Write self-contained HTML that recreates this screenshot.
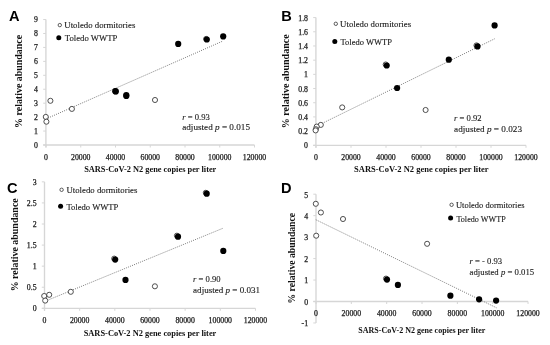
<!DOCTYPE html>
<html><head><meta charset="utf-8"><style>
html,body{margin:0;padding:0;background:#fff;}
body{width:550px;height:345px;overflow:hidden;}
svg{display:block;will-change:transform;filter:blur(0.3px);}
.tk{font-family:"Liberation Serif", serif;font-size:7.8px;fill:#202020;stroke:#202020;stroke-width:0.25px;}
.lg{font-family:"Liberation Serif", serif;font-size:8.4px;fill:#1a1a1a;stroke:#1a1a1a;stroke-width:0.12px;}
.rt{font-family:"Liberation Serif", serif;font-size:8.6px;fill:#1a1a1a;stroke:#1a1a1a;stroke-width:0.12px;}
.ti{font-family:"Liberation Serif", serif;font-size:8.4px;font-weight:bold;fill:#111;}
.yt{font-size:9.8px;}
.let{font-family:"Liberation Sans", sans-serif;font-size:14.6px;font-weight:bold;fill:#000;}
</style></head><body>
<svg width="550" height="345" viewBox="0 0 550 345">

<line x1="45.9" y1="19.54" x2="45.9" y2="147.5" stroke="#d6d6d6" stroke-width="1.35"/>
<line x1="43.2" y1="145" x2="254.5" y2="145" stroke="#d6d6d6" stroke-width="1.35"/>
<line x1="43.2" y1="145" x2="45.9" y2="145" stroke="#d6d6d6" stroke-width="1"/>
<text x="38" y="147.7" text-anchor="end" class="tk">0</text>
<line x1="43.2" y1="131.06" x2="45.9" y2="131.06" stroke="#d6d6d6" stroke-width="1"/>
<text x="38" y="133.76" text-anchor="end" class="tk">1</text>
<line x1="43.2" y1="117.12" x2="45.9" y2="117.12" stroke="#d6d6d6" stroke-width="1"/>
<text x="38" y="119.82" text-anchor="end" class="tk">2</text>
<line x1="43.2" y1="103.18" x2="45.9" y2="103.18" stroke="#d6d6d6" stroke-width="1"/>
<text x="38" y="105.88" text-anchor="end" class="tk">3</text>
<line x1="43.2" y1="89.24" x2="45.9" y2="89.24" stroke="#d6d6d6" stroke-width="1"/>
<text x="38" y="91.94" text-anchor="end" class="tk">4</text>
<line x1="43.2" y1="75.3" x2="45.9" y2="75.3" stroke="#d6d6d6" stroke-width="1"/>
<text x="38" y="78" text-anchor="end" class="tk">5</text>
<line x1="43.2" y1="61.36" x2="45.9" y2="61.36" stroke="#d6d6d6" stroke-width="1"/>
<text x="38" y="64.06" text-anchor="end" class="tk">6</text>
<line x1="43.2" y1="47.42" x2="45.9" y2="47.42" stroke="#d6d6d6" stroke-width="1"/>
<text x="38" y="50.12" text-anchor="end" class="tk">7</text>
<line x1="43.2" y1="33.48" x2="45.9" y2="33.48" stroke="#d6d6d6" stroke-width="1"/>
<text x="38" y="36.18" text-anchor="end" class="tk">8</text>
<line x1="43.2" y1="19.54" x2="45.9" y2="19.54" stroke="#d6d6d6" stroke-width="1"/>
<text x="38" y="22.24" text-anchor="end" class="tk">9</text>
<line x1="46" y1="145" x2="46" y2="147.5" stroke="#d6d6d6" stroke-width="1"/>
<text x="46" y="159.6" text-anchor="middle" class="tk">0</text>
<line x1="80.75" y1="145" x2="80.75" y2="147.5" stroke="#d6d6d6" stroke-width="1"/>
<text x="80.75" y="159.6" text-anchor="middle" class="tk">20000</text>
<line x1="115.5" y1="145" x2="115.5" y2="147.5" stroke="#d6d6d6" stroke-width="1"/>
<text x="115.5" y="159.6" text-anchor="middle" class="tk">40000</text>
<line x1="150.25" y1="145" x2="150.25" y2="147.5" stroke="#d6d6d6" stroke-width="1"/>
<text x="150.25" y="159.6" text-anchor="middle" class="tk">60000</text>
<line x1="185" y1="145" x2="185" y2="147.5" stroke="#d6d6d6" stroke-width="1"/>
<text x="185" y="159.6" text-anchor="middle" class="tk">80000</text>
<line x1="219.75" y1="145" x2="219.75" y2="147.5" stroke="#d6d6d6" stroke-width="1"/>
<text x="219.75" y="159.6" text-anchor="middle" class="tk">100000</text>
<line x1="254.5" y1="145" x2="254.5" y2="147.5" stroke="#d6d6d6" stroke-width="1"/>
<text x="254.5" y="159.6" text-anchor="middle" class="tk">120000</text>
<line x1="46" y1="118.9" x2="222.3" y2="41.3" stroke="#7a7a7a" stroke-width="1" stroke-dasharray="1 1.2"/>
<circle cx="50.4" cy="100.8" r="2.55" fill="#fff" stroke="#3c3c3c" stroke-width="0.9"/>
<circle cx="71.9" cy="108.9" r="2.55" fill="#fff" stroke="#3c3c3c" stroke-width="0.9"/>
<circle cx="45.8" cy="116.9" r="2.55" fill="#fff" stroke="#3c3c3c" stroke-width="0.9"/>
<circle cx="46.4" cy="121.7" r="2.55" fill="#fff" stroke="#3c3c3c" stroke-width="0.9"/>
<circle cx="155" cy="100" r="2.55" fill="#fff" stroke="#3c3c3c" stroke-width="0.9"/>
<circle cx="206.2" cy="38.9" r="2.55" fill="#fff" stroke="#3c3c3c" stroke-width="0.9"/>
<circle cx="115.3" cy="91.2" r="3.1" fill="#000"/>
<circle cx="115.8" cy="91.4" r="3.1" fill="#000"/>
<circle cx="126.3" cy="95" r="3.1" fill="#000"/>
<circle cx="126.3" cy="96" r="3.1" fill="#000"/>
<circle cx="178.2" cy="43.9" r="3.1" fill="#000"/>
<circle cx="206.8" cy="39.5" r="3.1" fill="#000"/>
<circle cx="223.2" cy="36.4" r="3.1" fill="#000"/>
<circle cx="59.8" cy="25.1" r="1.7" fill="#fff" stroke="#333" stroke-width="0.8"/>
<circle cx="58.8" cy="37.7" r="2.5" fill="#000"/>
<text x="64.3" y="27.5" class="lg" textLength="71" lengthAdjust="spacingAndGlyphs">Utoledo dormitories</text>
<text x="64.8" y="40.7" class="lg" textLength="52.5" lengthAdjust="spacingAndGlyphs">Toledo WWTP</text>
<text x="182.2" y="119.5" class="rt"><tspan font-style="italic">r</tspan> = 0.93</text>
<text x="182.2" y="129.7" class="rt" textLength="67.8" lengthAdjust="spacingAndGlyphs">adjusted <tspan font-style="italic">p</tspan> = 0.015</text>
<text x="84.15" y="171.6" class="ti" textLength="132.2" lengthAdjust="spacingAndGlyphs">SARS-CoV-2 N2 gene copies per liter</text>
<text transform="translate(22.4,127.9) rotate(-90)" x="0" y="0" class="ti yt" textLength="93" lengthAdjust="spacingAndGlyphs">% relative abundance</text>
<text x="9" y="20.9" class="let">A</text>
<line x1="315.9" y1="17.59" x2="315.9" y2="147.8" stroke="#d6d6d6" stroke-width="1.35"/>
<line x1="313.2" y1="145.3" x2="526" y2="145.3" stroke="#d6d6d6" stroke-width="1.35"/>
<line x1="313.2" y1="145.3" x2="315.9" y2="145.3" stroke="#d6d6d6" stroke-width="1"/>
<text x="308" y="148.4" text-anchor="end" class="tk">0</text>
<line x1="313.2" y1="131.11" x2="315.9" y2="131.11" stroke="#d6d6d6" stroke-width="1"/>
<text x="308" y="134.21" text-anchor="end" class="tk">0.2</text>
<line x1="313.2" y1="116.92" x2="315.9" y2="116.92" stroke="#d6d6d6" stroke-width="1"/>
<text x="308" y="120.02" text-anchor="end" class="tk">0.4</text>
<line x1="313.2" y1="102.73" x2="315.9" y2="102.73" stroke="#d6d6d6" stroke-width="1"/>
<text x="308" y="105.83" text-anchor="end" class="tk">0.6</text>
<line x1="313.2" y1="88.54" x2="315.9" y2="88.54" stroke="#d6d6d6" stroke-width="1"/>
<text x="308" y="91.64" text-anchor="end" class="tk">0.8</text>
<line x1="313.2" y1="74.35" x2="315.9" y2="74.35" stroke="#d6d6d6" stroke-width="1"/>
<text x="308" y="77.45" text-anchor="end" class="tk">1</text>
<line x1="313.2" y1="60.16" x2="315.9" y2="60.16" stroke="#d6d6d6" stroke-width="1"/>
<text x="308" y="63.26" text-anchor="end" class="tk">1.2</text>
<line x1="313.2" y1="45.97" x2="315.9" y2="45.97" stroke="#d6d6d6" stroke-width="1"/>
<text x="308" y="49.07" text-anchor="end" class="tk">1.4</text>
<line x1="313.2" y1="31.78" x2="315.9" y2="31.78" stroke="#d6d6d6" stroke-width="1"/>
<text x="308" y="34.88" text-anchor="end" class="tk">1.6</text>
<line x1="313.2" y1="17.59" x2="315.9" y2="17.59" stroke="#d6d6d6" stroke-width="1"/>
<text x="308" y="20.69" text-anchor="end" class="tk">1.8</text>
<line x1="316" y1="145.3" x2="316" y2="147.8" stroke="#d6d6d6" stroke-width="1"/>
<text x="316" y="159.6" text-anchor="middle" class="tk">0</text>
<line x1="351" y1="145.3" x2="351" y2="147.8" stroke="#d6d6d6" stroke-width="1"/>
<text x="351" y="159.6" text-anchor="middle" class="tk">20000</text>
<line x1="386" y1="145.3" x2="386" y2="147.8" stroke="#d6d6d6" stroke-width="1"/>
<text x="386" y="159.6" text-anchor="middle" class="tk">40000</text>
<line x1="421" y1="145.3" x2="421" y2="147.8" stroke="#d6d6d6" stroke-width="1"/>
<text x="421" y="159.6" text-anchor="middle" class="tk">60000</text>
<line x1="456" y1="145.3" x2="456" y2="147.8" stroke="#d6d6d6" stroke-width="1"/>
<text x="456" y="159.6" text-anchor="middle" class="tk">80000</text>
<line x1="491" y1="145.3" x2="491" y2="147.8" stroke="#d6d6d6" stroke-width="1"/>
<text x="491" y="159.6" text-anchor="middle" class="tk">100000</text>
<line x1="526" y1="145.3" x2="526" y2="147.8" stroke="#d6d6d6" stroke-width="1"/>
<text x="526" y="159.6" text-anchor="middle" class="tk">120000</text>
<line x1="316" y1="126.4" x2="494.6" y2="38.8" stroke="#7a7a7a" stroke-width="1" stroke-dasharray="1 1.2"/>
<circle cx="320.8" cy="124.9" r="2.55" fill="#fff" stroke="#3c3c3c" stroke-width="0.9"/>
<circle cx="316.7" cy="126.6" r="2.55" fill="#fff" stroke="#3c3c3c" stroke-width="0.9"/>
<circle cx="315.8" cy="129.2" r="2.55" fill="#fff" stroke="#3c3c3c" stroke-width="0.9"/>
<circle cx="315.6" cy="130.4" r="2.55" fill="#fff" stroke="#3c3c3c" stroke-width="0.9"/>
<circle cx="342.2" cy="107.4" r="2.55" fill="#fff" stroke="#3c3c3c" stroke-width="0.9"/>
<circle cx="425.6" cy="110" r="2.55" fill="#fff" stroke="#3c3c3c" stroke-width="0.9"/>
<circle cx="476.5" cy="45.4" r="2.55" fill="#fff" stroke="#3c3c3c" stroke-width="0.9"/>
<circle cx="385.7" cy="64.5" r="2.55" fill="#fff" stroke="#3c3c3c" stroke-width="0.9"/>
<circle cx="386.7" cy="65.5" r="3.1" fill="#000"/>
<circle cx="397.1" cy="88" r="3.1" fill="#000"/>
<circle cx="448.8" cy="59.7" r="3.1" fill="#000"/>
<circle cx="477.5" cy="46.4" r="3.1" fill="#000"/>
<circle cx="494.6" cy="25.4" r="3.1" fill="#000"/>
<circle cx="335.8" cy="23.8" r="1.7" fill="#fff" stroke="#333" stroke-width="0.8"/>
<circle cx="334.8" cy="41.5" r="2.5" fill="#000"/>
<text x="340.1" y="26.9" class="lg" textLength="71" lengthAdjust="spacingAndGlyphs">Utoledo dormitories</text>
<text x="340.5" y="44.8" class="lg" textLength="51.5" lengthAdjust="spacingAndGlyphs">Toledo WWTP</text>
<text x="454.1" y="121" class="rt"><tspan font-style="italic">r</tspan> = 0.92</text>
<text x="454.1" y="131.9" class="rt" textLength="67.9" lengthAdjust="spacingAndGlyphs">adjusted <tspan font-style="italic">p</tspan> = 0.023</text>
<text x="354.05" y="171.6" class="ti" textLength="134.5" lengthAdjust="spacingAndGlyphs">SARS-CoV-2 N2 gene copies per liter</text>
<text transform="translate(288.6,128.3) rotate(-90)" x="0" y="0" class="ti yt" textLength="94" lengthAdjust="spacingAndGlyphs">% relative abundance</text>
<text x="281.2" y="21" class="let">B</text>
<line x1="44.5" y1="181.85" x2="44.5" y2="310.8" stroke="#d6d6d6" stroke-width="1.35"/>
<line x1="41.8" y1="308.3" x2="255.46" y2="308.3" stroke="#d6d6d6" stroke-width="1.35"/>
<line x1="41.8" y1="308.3" x2="44.5" y2="308.3" stroke="#d6d6d6" stroke-width="1"/>
<text x="36.6" y="311.3" text-anchor="end" class="tk">0</text>
<line x1="41.8" y1="287.23" x2="44.5" y2="287.23" stroke="#d6d6d6" stroke-width="1"/>
<text x="36.6" y="290.23" text-anchor="end" class="tk">0.5</text>
<line x1="41.8" y1="266.15" x2="44.5" y2="266.15" stroke="#d6d6d6" stroke-width="1"/>
<text x="36.6" y="269.15" text-anchor="end" class="tk">1</text>
<line x1="41.8" y1="245.08" x2="44.5" y2="245.08" stroke="#d6d6d6" stroke-width="1"/>
<text x="36.6" y="248.08" text-anchor="end" class="tk">1.5</text>
<line x1="41.8" y1="224" x2="44.5" y2="224" stroke="#d6d6d6" stroke-width="1"/>
<text x="36.6" y="227" text-anchor="end" class="tk">2</text>
<line x1="41.8" y1="202.93" x2="44.5" y2="202.93" stroke="#d6d6d6" stroke-width="1"/>
<text x="36.6" y="205.93" text-anchor="end" class="tk">2.5</text>
<line x1="41.8" y1="181.85" x2="44.5" y2="181.85" stroke="#d6d6d6" stroke-width="1"/>
<text x="36.6" y="184.85" text-anchor="end" class="tk">3</text>
<line x1="44.5" y1="308.3" x2="44.5" y2="310.8" stroke="#d6d6d6" stroke-width="1"/>
<text x="44.5" y="323.1" text-anchor="middle" class="tk">0</text>
<line x1="79.66" y1="308.3" x2="79.66" y2="310.8" stroke="#d6d6d6" stroke-width="1"/>
<text x="79.66" y="323.1" text-anchor="middle" class="tk">20000</text>
<line x1="114.82" y1="308.3" x2="114.82" y2="310.8" stroke="#d6d6d6" stroke-width="1"/>
<text x="114.82" y="323.1" text-anchor="middle" class="tk">40000</text>
<line x1="149.98" y1="308.3" x2="149.98" y2="310.8" stroke="#d6d6d6" stroke-width="1"/>
<text x="149.98" y="323.1" text-anchor="middle" class="tk">60000</text>
<line x1="185.14" y1="308.3" x2="185.14" y2="310.8" stroke="#d6d6d6" stroke-width="1"/>
<text x="185.14" y="323.1" text-anchor="middle" class="tk">80000</text>
<line x1="220.3" y1="308.3" x2="220.3" y2="310.8" stroke="#d6d6d6" stroke-width="1"/>
<text x="220.3" y="323.1" text-anchor="middle" class="tk">100000</text>
<line x1="255.46" y1="308.3" x2="255.46" y2="310.8" stroke="#d6d6d6" stroke-width="1"/>
<text x="255.46" y="323.1" text-anchor="middle" class="tk">120000</text>
<line x1="44.5" y1="301.5" x2="222.6" y2="228.4" stroke="#7a7a7a" stroke-width="1" stroke-dasharray="1 1.2"/>
<circle cx="49.2" cy="294.8" r="2.55" fill="#fff" stroke="#3c3c3c" stroke-width="0.9"/>
<circle cx="44.2" cy="296" r="2.55" fill="#fff" stroke="#3c3c3c" stroke-width="0.9"/>
<circle cx="45.2" cy="300.6" r="2.55" fill="#fff" stroke="#3c3c3c" stroke-width="0.9"/>
<circle cx="70.8" cy="291.8" r="2.55" fill="#fff" stroke="#3c3c3c" stroke-width="0.9"/>
<circle cx="154.9" cy="286.3" r="2.55" fill="#fff" stroke="#3c3c3c" stroke-width="0.9"/>
<circle cx="114.2" cy="258.6" r="2.55" fill="#fff" stroke="#3c3c3c" stroke-width="0.9"/>
<circle cx="176.9" cy="235.7" r="2.55" fill="#fff" stroke="#3c3c3c" stroke-width="0.9"/>
<circle cx="205.8" cy="192.8" r="2.55" fill="#fff" stroke="#3c3c3c" stroke-width="0.9"/>
<circle cx="115.2" cy="259.6" r="3.1" fill="#000"/>
<circle cx="125.5" cy="279.9" r="3.1" fill="#000"/>
<circle cx="178" cy="236.7" r="3.1" fill="#000"/>
<circle cx="206.7" cy="193.7" r="3.1" fill="#000"/>
<circle cx="223.3" cy="250.9" r="3.1" fill="#000"/>
<circle cx="61.6" cy="189.8" r="1.7" fill="#fff" stroke="#333" stroke-width="0.8"/>
<circle cx="60.6" cy="206.2" r="2.5" fill="#000"/>
<text x="66.4" y="192.7" class="lg" textLength="71" lengthAdjust="spacingAndGlyphs">Utoledo dormitories</text>
<text x="66.4" y="210.2" class="lg" textLength="52" lengthAdjust="spacingAndGlyphs">Toledo WWTP</text>
<text x="193.1" y="282.4" class="rt"><tspan font-style="italic">r</tspan> = 0.90</text>
<text x="193.1" y="293.4" class="rt" textLength="66.9" lengthAdjust="spacingAndGlyphs">adjusted <tspan font-style="italic">p</tspan> = 0.031</text>
<text x="83.65" y="335.6" class="ti" textLength="132.7" lengthAdjust="spacingAndGlyphs">SARS-CoV-2 N2 gene copies per liter</text>
<text transform="translate(17.8,291.3) rotate(-90)" x="0" y="0" class="ti yt" textLength="93" lengthAdjust="spacingAndGlyphs">% relative abundance</text>
<text x="6.9" y="192.9" class="let">C</text>
<line x1="316" y1="194.2" x2="316" y2="322.96" stroke="#d6d6d6" stroke-width="1.35"/>
<line x1="313.3" y1="301.5" x2="528.04" y2="301.5" stroke="#d6d6d6" stroke-width="1.35"/>
<line x1="313.3" y1="322.96" x2="316" y2="322.96" stroke="#d6d6d6" stroke-width="1"/>
<text x="308.1" y="326.26" text-anchor="end" class="tk">-1</text>
<line x1="313.3" y1="301.5" x2="316" y2="301.5" stroke="#d6d6d6" stroke-width="1"/>
<text x="308.1" y="304.8" text-anchor="end" class="tk">0</text>
<line x1="313.3" y1="280.04" x2="316" y2="280.04" stroke="#d6d6d6" stroke-width="1"/>
<text x="308.1" y="283.34" text-anchor="end" class="tk">1</text>
<line x1="313.3" y1="258.58" x2="316" y2="258.58" stroke="#d6d6d6" stroke-width="1"/>
<text x="308.1" y="261.88" text-anchor="end" class="tk">2</text>
<line x1="313.3" y1="237.12" x2="316" y2="237.12" stroke="#d6d6d6" stroke-width="1"/>
<text x="308.1" y="240.42" text-anchor="end" class="tk">3</text>
<line x1="313.3" y1="215.66" x2="316" y2="215.66" stroke="#d6d6d6" stroke-width="1"/>
<text x="308.1" y="218.96" text-anchor="end" class="tk">4</text>
<line x1="313.3" y1="194.2" x2="316" y2="194.2" stroke="#d6d6d6" stroke-width="1"/>
<text x="308.1" y="197.5" text-anchor="end" class="tk">5</text>
<line x1="316" y1="301.5" x2="316" y2="304" stroke="#d6d6d6" stroke-width="1"/>
<text x="316" y="315.9" text-anchor="middle" class="tk">0</text>
<line x1="351.34" y1="301.5" x2="351.34" y2="304" stroke="#d6d6d6" stroke-width="1"/>
<text x="351.34" y="315.9" text-anchor="middle" class="tk">20000</text>
<line x1="386.68" y1="301.5" x2="386.68" y2="304" stroke="#d6d6d6" stroke-width="1"/>
<text x="386.68" y="315.9" text-anchor="middle" class="tk">40000</text>
<line x1="422.02" y1="301.5" x2="422.02" y2="304" stroke="#d6d6d6" stroke-width="1"/>
<text x="422.02" y="315.9" text-anchor="middle" class="tk">60000</text>
<line x1="457.36" y1="301.5" x2="457.36" y2="304" stroke="#d6d6d6" stroke-width="1"/>
<text x="457.36" y="315.9" text-anchor="middle" class="tk">80000</text>
<line x1="492.7" y1="301.5" x2="492.7" y2="304" stroke="#d6d6d6" stroke-width="1"/>
<text x="492.7" y="315.9" text-anchor="middle" class="tk">100000</text>
<line x1="528.04" y1="301.5" x2="528.04" y2="304" stroke="#d6d6d6" stroke-width="1"/>
<text x="528.04" y="315.9" text-anchor="middle" class="tk">120000</text>
<line x1="315.8" y1="219.7" x2="496.5" y2="307.8" stroke="#7a7a7a" stroke-width="1" stroke-dasharray="1 1.2"/>
<circle cx="315.8" cy="203.8" r="2.55" fill="#fff" stroke="#3c3c3c" stroke-width="0.9"/>
<circle cx="320.9" cy="212.5" r="2.55" fill="#fff" stroke="#3c3c3c" stroke-width="0.9"/>
<circle cx="343" cy="219" r="2.55" fill="#fff" stroke="#3c3c3c" stroke-width="0.9"/>
<circle cx="316.2" cy="235.7" r="2.55" fill="#fff" stroke="#3c3c3c" stroke-width="0.9"/>
<circle cx="427.1" cy="243.8" r="2.55" fill="#fff" stroke="#3c3c3c" stroke-width="0.9"/>
<circle cx="386" cy="278.6" r="2.55" fill="#fff" stroke="#3c3c3c" stroke-width="0.9"/>
<circle cx="387" cy="279.6" r="3.1" fill="#000"/>
<circle cx="397.9" cy="284.9" r="3.1" fill="#000"/>
<circle cx="450.4" cy="295.7" r="3.1" fill="#000"/>
<circle cx="479.1" cy="299.3" r="3.1" fill="#000"/>
<circle cx="496.1" cy="300.6" r="3.1" fill="#000"/>
<circle cx="451.6" cy="204.8" r="1.7" fill="#fff" stroke="#333" stroke-width="0.8"/>
<circle cx="450.6" cy="217.9" r="2.5" fill="#000"/>
<text x="456" y="208" class="lg" textLength="68.5" lengthAdjust="spacingAndGlyphs">Utoledo dormitories</text>
<text x="456.4" y="222" class="lg" textLength="49.3" lengthAdjust="spacingAndGlyphs">Toledo WWTP</text>
<text x="469.6" y="264" class="rt"><tspan font-style="italic">r</tspan> = - 0.93</text>
<text x="469.6" y="274.9" class="rt" textLength="64.6" lengthAdjust="spacingAndGlyphs">adjusted <tspan font-style="italic">p</tspan> = 0.015</text>
<text x="358.3" y="332.8" class="ti" textLength="127" lengthAdjust="spacingAndGlyphs">SARS-CoV-2 N2 gene copies per liter</text>
<text transform="translate(295.3,303.45) rotate(-90)" x="0" y="0" class="ti yt" textLength="90.5" lengthAdjust="spacingAndGlyphs">% relative abundance</text>
<text x="281" y="193" class="let">D</text>
</svg>
</body></html>
